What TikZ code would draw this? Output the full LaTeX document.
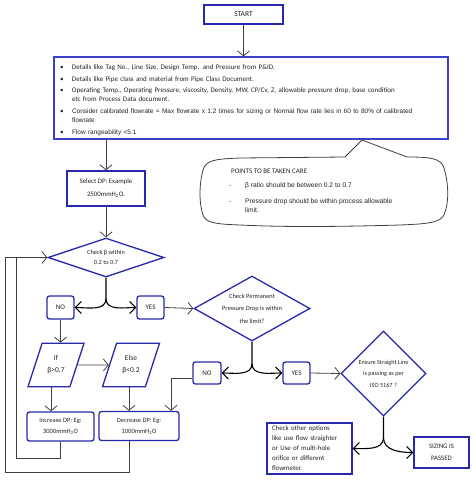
\documentclass[tikz,border=0pt]{standalone}
\usepackage{fontspec}
\setmainfont{Carlito}
\newfontfamily\arialfont{Liberation Sans}
\usepackage{xcolor}
\usetikzlibrary{shapes.geometric, arrows.meta}
\definecolor{flowblue}{RGB}{40,40,170}
\definecolor{boxblue}{RGB}{62,62,205}
\definecolor{linegray}{RGB}{64,64,64}
\definecolor{textgray}{RGB}{35,35,35}
\newcommand{\fsz}[2]{\fontsize{#1}{#2}\selectfont}
\newcommand{\bitem}[1]{\par\noindent\makebox[12pt][l]{\textbullet}#1}
\newcommand{\bnext}{\\\hspace*{12pt}}

\begin{document}
\begin{tikzpicture}[x=1pt, y=1pt, text=textgray,
	box/.style={draw=flowblue, line width=1.3pt, rectangle, inner sep=0pt, align=center},
	rbox/.style={box, rounded corners=2.5pt},
	decision/.style={draw=flowblue, line width=1.3pt, diamond, inner sep=-3pt, align=center},
	ioshape/.style={draw=flowblue, line width=1.3pt, trapezium, trapezium left angle=72, trapezium right angle=108, trapezium stretches body, inner xsep=0pt, inner ysep=12.5pt, align=center},
	conn/.style={draw=linegray, line width=0.8pt},
	arr/.style={conn, -{Straight Barb[length=5pt,width=12pt]}},
	fork/.style={draw=black, line width=1.1pt, -{Straight Barb[length=6pt,width=12pt]}}]
	\useasboundingbox (0,0) rectangle (474,-483);

	\node[box, minimum width=79pt, minimum height=19pt, font=\fsz{7.5}{9}] (start) at (243.5,-14.5) {START};
	\node[box, draw=boxblue, minimum width=394pt, minimum height=82pt, text width=382pt, inner xsep=6pt, align=left, font=\fsz{7}{9.3}] (details) at (251,-98) {%
		\bitem{Details like Tag No., Line Size, Design Temp. and Pressure from P\&ID.}\setlength{\parskip}{2.2pt}
		\bitem{Details like Pipe class and material from Pipe Class Document.}
		\bitem{Operating Temp., Operating Pressure, viscosity, Density, MW, CP/Cv, Z, allowable pressure drop, base condition\bnext etc from Process Data document.}
		\bitem{{\arialfont\fsz{6.5}{9.3}Consider calibrated flowrate = Max flowrate x 1.2 times for sizing or Normal flow rate lies in 60 to 80\% of calibrated\bnext flowrate}}
		\bitem{{\arialfont\fsz{6.5}{9.3}Flow rangeability <5:1}}};

	\draw[draw=linegray, line width=0.8pt, fill=white] (345,-157) -- (362,-140) -- (407,-157)
		.. controls (430,-157) and (441,-158) .. (444,-168)
		.. controls (449,-185) and (449,-203) .. (444,-215)
		.. controls (440,-223) and (425,-224) .. (400,-225)
		.. controls (330,-227) and (280,-227) .. (240,-225)
		.. controls (215,-224) and (206,-223) .. (203,-215)
		.. controls (199,-203) and (199,-185) .. (203,-170)
		.. controls (206,-160) and (215,-159) .. (240,-158) -- cycle;
	\node[anchor=north west, align=left, inner sep=0pt, font=\arialfont\fsz{6.7}{8.3}] (care) at (229,-169) {%
		{\normalfont\fsz{7}{8.3}\hspace*{2pt}POINTS TO BE TAKEN CARE}\\[5.7pt]
		\makebox[16pt][l]{-}β ratio should be between 0.2 to 0.7\\[7.7pt]
		\makebox[16pt][l]{-}Pressure drop should be within process allowable\\
		\hspace*{16pt}limit.};

	\node[box, minimum width=78pt, minimum height=35pt, font=\fsz{6.8}{13}] (selectdp) at (106,-188.5) {Select DP: Example\\2500mmH\textsubscript{2}O.};
	\node[decision, aspect=3, minimum width=116pt, minimum height=39pt, font=\fsz{6.3}{10}] (checkb) at (106,-257.5) {Check β within\\0.2 to 0.7};
	\node[rbox, minimum width=27pt, minimum height=23pt, font=\fsz{7}{9}] (no1) at (60.5,-307.5) {NO};
	\node[rbox, minimum width=27pt, minimum height=23pt, font=\fsz{7}{9}] (yes1) at (150.5,-307.5) {YES};
	\node[decision, aspect=1.78, minimum width=116pt, minimum height=65pt, font=\fsz{6.4}{12.3}] (checkdp) at (252,-308.5) {Check Permanent\\Pressure Drop is within\\the limit?};
	\node[ioshape, minimum width=56pt, font=\fsz{7.5}{12}] (ifb) at (56,-365) {If\\β>0.7};
	\node[ioshape, minimum width=57pt, font=\fsz{7.5}{12}] (elseb) at (131,-365) {Else\\β<0.2};
	\node[rbox, minimum width=67pt, minimum height=29pt, font=\fsz{6.5}{11}] (incdp) at (60.5,-426.5) {Increase DP: Eg:\\3000mmH\textsubscript{2}O};
	\node[rbox, minimum width=80pt, minimum height=29pt, font=\fsz{6.5}{11}] (decdp) at (139,-426) {Decrease DP: Eg:\\1000mmH\textsubscript{2}O};
	\node[rbox, minimum width=28pt, minimum height=22pt, font=\fsz{7}{9}] (no2) at (207,-373) {NO};
	\node[rbox, minimum width=27pt, minimum height=22pt, font=\fsz{7}{9}] (yes2) at (296.5,-373) {YES};
	\node[decision, aspect=1, minimum width=85pt, minimum height=85pt, font=\fsz{6.2}{11.5}] (ensure) at (383.5,-373.5) {Ensure Straight Line\\is passing as per\\ISO 5167 ?};
	\node[box, minimum width=85pt, minimum height=51pt, text width=75pt, align=left, font=\fsz{6.9}{10}] (other) at (309.5,-448.5) {Check other options\\like use flow straighter\\or Use of multi-hole\\orifice or different\\flowmeter.};
	\node[box, minimum width=55pt, minimum height=31pt, font=\fsz{6.8}{12}] (sizing) at (441.5,-452.5) {SIZING IS\\PASSED};

	\coordinate (iffoot) at ([xshift=-5pt]ifb.south);
	\coordinate (elsefoot) at ([xshift=-2pt]elseb.south);
	\coordinate (loopa) at (16,-458);
	\coordinate (loopb) at (5,-472);

	\draw[arr] (start.south) -- (start |- details.north);
	\draw[arr] (selectdp |- details.south) -- (selectdp.north);
	\draw[arr] (selectdp.south) -- (checkb.north);
	\draw[fork] (checkb.south) -- ++(0,-21) coordinate (s1) to[out=-90, in=0] (no1.east);
	\draw[fork] (s1) to[out=-90, in=180] (yes1.west);
	\draw[arr] (yes1.east) -- (checkdp.west);
	\draw[arr] (no1.south) -- (no1.south |- ifb.north);
	\draw[arr] (ifb.east) -- (elseb.west);
	\draw[arr] (iffoot) -- (iffoot |- incdp.north);
	\draw[arr] (elsefoot) -- (elsefoot |- decdp.north);
	\draw[arr] ([yshift=-5pt]no2.west) -| ([xshift=32pt]decdp.north);
	\draw[fork] (checkdp.south) -- ++(0,-22) coordinate (s2) to[out=-90, in=0] (no2.east);
	\draw[fork] (s2) to[out=-90, in=180] (yes2.west);
	\draw[arr] (yes2.east) -- (ensure.west);
	\draw[fork] (ensure.south) -- ++(0,-21) coordinate (s3) to[out=-90, in=0] (other.east);
	\draw[fork] (s3) to[out=-90, in=180] (sizing.west);
	\draw[conn] (incdp.south) |- (loopa) -- (loopa |- checkb.west);
	\draw[arr] (elsefoot |- decdp.south) |- (loopb) |- (checkb.west);
\end{tikzpicture}
\end{document}
